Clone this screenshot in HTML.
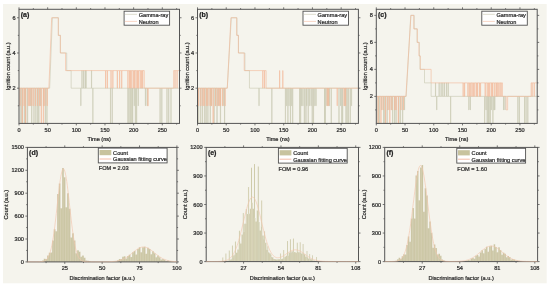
<!DOCTYPE html>
<html><head><meta charset="utf-8"><title>Figure</title>
<style>html,body{margin:0;padding:0;background:#fff;}svg{display:block;filter:blur(0.4px);}</style>
</head><body>
<svg width="550" height="288" viewBox="0 0 550 288" font-family="'Liberation Sans', Arial, sans-serif">
<rect x="0" y="0" width="550" height="288" fill="#ffffff"/>
<rect x="3" y="4" width="543.7" height="279.3" fill="#f5f4ed"/>
<path d="M19,88.18 L20.83,88.18 L20.83,123.4 L21,123.4 L21,88.18 L22.04,88.18 L22.04,123.4 L22.33,123.4 L22.33,88.18 L24.26,88.18 L24.26,123.4 L24.45,123.4 L24.45,88.18 L25.62,88.18 L25.62,123.4 L25.88,123.4 L25.88,88.18 L27.43,88.18 L27.43,123.4 L27.7,123.4 L27.7,88.18 L30.03,88.18 L30.03,105.79 L30.36,105.79 L30.36,88.18 L31.61,88.18 L31.61,123.4 L31.85,123.4 L31.85,88.18 L33.88,88.18 L33.88,123.4 L34.1,123.4 L34.1,88.18 L35.79,88.18 L35.79,123.4 L36.02,123.4 L36.02,88.18 L37.61,88.18 L37.61,123.4 L37.86,123.4 L37.86,88.18 L38.75,88.18 L38.75,123.4 L38.93,123.4 L38.93,88.18 L40.55,88.18 L40.55,105.79 L40.8,105.79 L40.8,88.18 L43.35,88.18 L43.35,105.79 L43.61,105.79 L43.61,88.18 L45.22,88.18 L45.22,123.4 L45.52,123.4 L45.52,88.18 L46.8,88.18 L46.8,123.4 L47.1,123.4 L47.1,88.18 L49.67,88.18 L52.36,17.75 L58.44,17.75 L58.44,35.36 L60.39,35.36 L60.39,52.97 L66.69,52.97 L66.69,70.58 L71.16,70.58 L71.16,88.18 L80.74,88.18 L80.74,105.79 L80.94,105.79 L80.94,88.18 L81.88,88.18 L81.88,70.58 L82.08,70.58 L82.08,88.18 L83.49,88.18 L83.49,70.58 L83.69,70.58 L83.69,88.18 L85.15,88.18 L85.15,70.58 L85.35,70.58 L85.35,88.18 L85.95,88.18 L85.95,70.58 L86.15,70.58 L86.15,88.18 L91.45,88.18 L91.45,70.58 L91.65,70.58 L91.65,88.18 L92.77,88.18 L92.77,123.4 L92.97,123.4 L92.97,88.18 L110.43,88.18 L110.43,123.4 L110.63,123.4 L110.63,88.18 L112.15,88.18 L112.15,123.4 L112.35,123.4 L112.35,88.18 L127.83,88.18 L127.83,123.4 L128.09,123.4 L128.09,88.18 L129.01,88.18 L129.01,123.4 L129.18,123.4 L129.18,88.18 L130.3,88.18 L130.3,123.4 L130.58,123.4 L130.58,88.18 L131.64,88.18 L131.64,123.4 L131.85,123.4 L131.85,88.18 L132.56,88.18 L132.56,123.4 L132.76,123.4 L132.76,88.18 L134.17,88.18 L134.17,105.79 L134.4,105.79 L134.4,88.18 L135.27,88.18 L135.27,123.4 L135.58,123.4 L135.58,88.18 L136.44,88.18 L136.44,123.4 L136.75,123.4 L136.75,88.18 L138.18,88.18 L138.18,105.79 L138.35,105.79 L138.35,88.18 L145.39,88.18 L145.39,105.79 L145.59,105.79 L145.59,88.18 L147.11,88.18 L147.11,105.79 L147.31,105.79 L147.31,88.18 L160.01,88.18 L160.01,123.4 L160.21,123.4 L160.21,88.18 L161.73,88.18 L161.73,123.4 L161.93,123.4 L161.93,88.18 L166.89,88.18 L166.89,123.4 L167.09,123.4 L167.09,88.18 L168.61,88.18 L168.61,123.4 L168.81,123.4 L168.81,88.18 L170.9,88.18 L170.9,123.4 L171.1,123.4 L171.1,88.18 L179.5,88.18 L179.5,88.18" fill="none" stroke="#c8c7b0" stroke-width="0.6" stroke-linejoin="miter"/>
<path d="M19,88.18 L19.91,88.18 L19.91,105.79 L20.12,105.79 L20.12,88.18 L22.19,88.18 L22.19,123.4 L22.45,123.4 L22.45,88.18 L23.93,88.18 L23.93,105.79 L24.1,105.79 L24.1,88.18 L25.41,88.18 L25.41,123.4 L25.66,123.4 L25.66,88.18 L28.11,88.18 L28.11,105.79 L28.43,105.79 L28.43,88.18 L29.42,88.18 L29.42,105.79 L29.72,105.79 L29.72,88.18 L31.11,88.18 L31.11,105.79 L31.26,105.79 L31.26,88.18 L32.9,88.18 L32.9,105.79 L33.28,105.79 L33.28,88.18 L35.17,88.18 L35.17,105.79 L35.56,105.79 L35.56,88.18 L37.43,88.18 L37.43,105.79 L37.77,105.79 L37.77,88.18 L39.54,88.18 L39.54,105.79 L39.77,105.79 L39.77,88.18 L41.12,88.18 L41.12,123.4 L41.51,123.4 L41.51,88.18 L43.27,88.18 L43.27,123.4 L43.63,123.4 L43.63,88.18 L44.73,88.18 L44.73,105.79 L44.92,105.79 L44.92,88.18 L47.09,88.18 L47.09,105.79 L47.27,105.79 L47.27,88.18 L48.86,88.18 L51.67,17.75 L58.27,17.75 L58.27,35.36 L60.39,35.36 L60.39,52.97 L65.55,52.97 L65.55,70.58 L105.56,70.58 L105.56,88.18 L105.76,88.18 L105.76,70.58 L107.28,70.58 L107.28,88.18 L107.48,88.18 L107.48,70.58 L110.94,70.58 L110.94,88.18 L111.14,88.18 L111.14,70.58 L112.78,70.58 L112.78,88.18 L112.98,88.18 L112.98,70.58 L117.25,70.58 L117.25,88.18 L117.45,88.18 L117.45,70.58 L119.54,70.58 L119.54,88.18 L119.74,88.18 L119.74,70.58 L121.61,70.58 L121.61,88.18 L121.81,88.18 L121.81,70.58 L127.83,70.58 L127.83,88.18 L128.08,88.18 L128.08,70.58 L129.49,70.58 L129.49,88.18 L129.7,88.18 L129.7,70.58 L130.56,70.58 L130.56,88.18 L130.75,88.18 L130.75,70.58 L131.73,70.58 L131.73,88.18 L131.99,88.18 L131.99,70.58 L133.54,70.58 L133.54,88.18 L133.81,88.18 L133.81,70.58 L134.48,70.58 L134.48,88.18 L134.76,88.18 L134.76,70.58 L135.99,70.58 L135.99,88.18 L136.27,88.18 L136.27,70.58 L137.5,70.58 L137.5,88.18 L137.68,88.18 L137.68,70.58 L138.32,70.58 L138.32,88.18 L138.6,88.18 L138.6,70.58 L140.13,70.58 L140.13,88.18 L140.38,88.18 L140.38,70.58 L141.52,70.58 L141.52,88.18 L141.8,88.18 L141.8,70.58 L142.58,70.58 L142.58,88.18 L142.84,88.18 L142.84,70.58 L144.3,70.58 L144.3,88.18 L147.69,88.18 L147.69,105.79 L148.26,105.79 L148.26,88.18 L173.6,88.18 L173.6,70.58 L174.91,70.58 L174.91,88.18 L175.11,88.18 L175.11,70.58 L176.98,70.58 L176.98,88.18 L177.18,88.18 L177.18,70.58 L179.5,70.58 L179.5,70.58" fill="none" stroke="#f3b999" stroke-width="0.6" stroke-linejoin="miter"/>
<line x1="19" y1="123.4" x2="19" y2="125.4" stroke="#555555" stroke-width="0.8"/>
<line x1="19" y1="9.3" x2="19" y2="7.3" stroke="#555555" stroke-width="0.8"/>
<line x1="47.66" y1="123.4" x2="47.66" y2="125.4" stroke="#555555" stroke-width="0.8"/>
<line x1="47.66" y1="9.3" x2="47.66" y2="7.3" stroke="#555555" stroke-width="0.8"/>
<line x1="76.32" y1="123.4" x2="76.32" y2="125.4" stroke="#555555" stroke-width="0.8"/>
<line x1="76.32" y1="9.3" x2="76.32" y2="7.3" stroke="#555555" stroke-width="0.8"/>
<line x1="104.98" y1="123.4" x2="104.98" y2="125.4" stroke="#555555" stroke-width="0.8"/>
<line x1="104.98" y1="9.3" x2="104.98" y2="7.3" stroke="#555555" stroke-width="0.8"/>
<line x1="133.64" y1="123.4" x2="133.64" y2="125.4" stroke="#555555" stroke-width="0.8"/>
<line x1="133.64" y1="9.3" x2="133.64" y2="7.3" stroke="#555555" stroke-width="0.8"/>
<line x1="162.3" y1="123.4" x2="162.3" y2="125.4" stroke="#555555" stroke-width="0.8"/>
<line x1="162.3" y1="9.3" x2="162.3" y2="7.3" stroke="#555555" stroke-width="0.8"/>
<line x1="33.33" y1="123.4" x2="33.33" y2="124.6" stroke="#555555" stroke-width="0.8"/>
<line x1="33.33" y1="9.3" x2="33.33" y2="8.1" stroke="#555555" stroke-width="0.8"/>
<line x1="61.99" y1="123.4" x2="61.99" y2="124.6" stroke="#555555" stroke-width="0.8"/>
<line x1="61.99" y1="9.3" x2="61.99" y2="8.1" stroke="#555555" stroke-width="0.8"/>
<line x1="90.65" y1="123.4" x2="90.65" y2="124.6" stroke="#555555" stroke-width="0.8"/>
<line x1="90.65" y1="9.3" x2="90.65" y2="8.1" stroke="#555555" stroke-width="0.8"/>
<line x1="119.31" y1="123.4" x2="119.31" y2="124.6" stroke="#555555" stroke-width="0.8"/>
<line x1="119.31" y1="9.3" x2="119.31" y2="8.1" stroke="#555555" stroke-width="0.8"/>
<line x1="147.97" y1="123.4" x2="147.97" y2="124.6" stroke="#555555" stroke-width="0.8"/>
<line x1="147.97" y1="9.3" x2="147.97" y2="8.1" stroke="#555555" stroke-width="0.8"/>
<line x1="176.63" y1="123.4" x2="176.63" y2="124.6" stroke="#555555" stroke-width="0.8"/>
<line x1="176.63" y1="9.3" x2="176.63" y2="8.1" stroke="#555555" stroke-width="0.8"/>
<line x1="19" y1="88.18" x2="17" y2="88.18" stroke="#555555" stroke-width="0.8"/>
<line x1="179.5" y1="88.18" x2="181.5" y2="88.18" stroke="#555555" stroke-width="0.8"/>
<line x1="19" y1="52.97" x2="17" y2="52.97" stroke="#555555" stroke-width="0.8"/>
<line x1="179.5" y1="52.97" x2="181.5" y2="52.97" stroke="#555555" stroke-width="0.8"/>
<line x1="19" y1="17.75" x2="17" y2="17.75" stroke="#555555" stroke-width="0.8"/>
<line x1="179.5" y1="17.75" x2="181.5" y2="17.75" stroke="#555555" stroke-width="0.8"/>
<line x1="19" y1="105.79" x2="17.8" y2="105.79" stroke="#555555" stroke-width="0.8"/>
<line x1="179.5" y1="105.79" x2="180.7" y2="105.79" stroke="#555555" stroke-width="0.8"/>
<line x1="19" y1="70.58" x2="17.8" y2="70.58" stroke="#555555" stroke-width="0.8"/>
<line x1="179.5" y1="70.58" x2="180.7" y2="70.58" stroke="#555555" stroke-width="0.8"/>
<line x1="19" y1="35.36" x2="17.8" y2="35.36" stroke="#555555" stroke-width="0.8"/>
<line x1="179.5" y1="35.36" x2="180.7" y2="35.36" stroke="#555555" stroke-width="0.8"/>
<rect x="19" y="9.3" width="160.5" height="114.1" fill="none" stroke="#555555" stroke-width="1"/>
<text x="19" y="131.8" text-anchor="middle" font-size="5.6" font-weight="normal" fill="#2e2e2e" stroke="#2e2e2e" stroke-width="0.24" >0</text>
<text x="47.66" y="131.8" text-anchor="middle" font-size="5.6" font-weight="normal" fill="#2e2e2e" stroke="#2e2e2e" stroke-width="0.24" >50</text>
<text x="76.32" y="131.8" text-anchor="middle" font-size="5.6" font-weight="normal" fill="#2e2e2e" stroke="#2e2e2e" stroke-width="0.24" >100</text>
<text x="104.98" y="131.8" text-anchor="middle" font-size="5.6" font-weight="normal" fill="#2e2e2e" stroke="#2e2e2e" stroke-width="0.24" >150</text>
<text x="133.64" y="131.8" text-anchor="middle" font-size="5.6" font-weight="normal" fill="#2e2e2e" stroke="#2e2e2e" stroke-width="0.24" >200</text>
<text x="162.3" y="131.8" text-anchor="middle" font-size="5.6" font-weight="normal" fill="#2e2e2e" stroke="#2e2e2e" stroke-width="0.24" >250</text>
<text x="15.5" y="90.18" text-anchor="end" font-size="5.6" font-weight="normal" fill="#2e2e2e" stroke="#2e2e2e" stroke-width="0.24" >2</text>
<text x="15.5" y="54.97" text-anchor="end" font-size="5.6" font-weight="normal" fill="#2e2e2e" stroke="#2e2e2e" stroke-width="0.24" >4</text>
<text x="15.5" y="19.75" text-anchor="end" font-size="5.6" font-weight="normal" fill="#2e2e2e" stroke="#2e2e2e" stroke-width="0.24" >6</text>
<text x="99.25" y="141.2" text-anchor="middle" font-size="5.6" font-weight="normal" fill="#2e2e2e" stroke="#2e2e2e" stroke-width="0.24" >Time (ns)</text>
<text x="0" y="0" transform="translate(9.9,66.35) rotate(-90)" text-anchor="middle" font-size="5.6" fill="#2e2e2e" stroke="#2e2e2e" stroke-width="0.24">Ignition count (a.u.)</text>
<text x="20.7" y="16.7" text-anchor="start" font-size="7.0" font-weight="bold" fill="#222" stroke="#222" stroke-width="0.24" >(a)</text>
<rect x="124.1" y="11.2" width="45.5" height="14" fill="#ffffff" stroke="#505050" stroke-width="0.9"/>
<line x1="124.9" y1="14.3" x2="137.1" y2="14.3" stroke="#d4d3c0" stroke-width="0.8"/>
<line x1="124.9" y1="21.4" x2="137.1" y2="21.4" stroke="#f7cdb8" stroke-width="0.8"/>
<text x="138.7" y="16.6" text-anchor="start" font-size="5.6" font-weight="normal" fill="#2e2e2e" stroke="#2e2e2e" stroke-width="0.24" >Gamma-ray</text>
<text x="138.7" y="23.7" text-anchor="start" font-size="5.6" font-weight="normal" fill="#2e2e2e" stroke="#2e2e2e" stroke-width="0.24" >Neutron</text>
<path d="M197.5,88.18 L198.52,88.18 L198.52,123.4 L198.81,123.4 L198.81,88.18 L200.63,88.18 L200.63,123.4 L200.78,123.4 L200.78,88.18 L202.38,88.18 L202.38,123.4 L202.68,123.4 L202.68,88.18 L204.62,88.18 L204.62,123.4 L204.87,123.4 L204.87,88.18 L206.01,88.18 L206.01,123.4 L206.32,123.4 L206.32,88.18 L207.74,88.18 L207.74,123.4 L208.05,123.4 L208.05,88.18 L210.18,88.18 L210.18,123.4 L210.36,123.4 L210.36,88.18 L211.47,88.18 L211.47,105.79 L211.79,105.79 L211.79,88.18 L214.03,88.18 L214.03,123.4 L214.19,123.4 L214.19,88.18 L215.48,88.18 L215.48,105.79 L215.7,105.79 L215.7,88.18 L216.92,88.18 L216.92,123.4 L217.16,123.4 L217.16,88.18 L218.58,88.18 L218.58,105.79 L218.9,105.79 L218.9,88.18 L220.33,88.18 L220.33,123.4 L220.59,123.4 L220.59,88.18 L223.14,88.18 L223.14,105.79 L223.32,105.79 L223.32,88.18 L224.47,88.18 L224.47,123.4 L224.7,123.4 L224.7,88.18 L227.27,88.18 L231.29,17.75 L236.92,17.75 L236.92,35.36 L238.53,35.36 L238.53,52.97 L244.91,52.97 L244.91,70.58 L249.45,70.58 L249.45,88.18 L258.93,88.18 L258.93,105.79 L259.13,105.79 L259.13,88.18 L271.74,88.18 L271.74,123.4 L271.94,123.4 L271.94,88.18 L285.3,88.18 L285.3,123.4 L285.55,123.4 L285.55,88.18 L286.52,88.18 L286.52,105.79 L286.87,105.79 L286.87,88.18 L287.8,88.18 L287.8,123.4 L288,123.4 L288,88.18 L288.97,88.18 L288.97,105.79 L289.15,105.79 L289.15,88.18 L290.39,88.18 L290.39,123.4 L290.58,123.4 L290.58,88.18 L291.44,88.18 L291.44,105.79 L291.77,105.79 L291.77,88.18 L292.51,88.18 L292.51,123.4 L292.86,123.4 L292.86,88.18 L299.52,88.18 L299.52,123.4 L299.73,123.4 L299.73,88.18 L300.55,88.18 L300.55,123.4 L300.76,123.4 L300.76,88.18 L301.47,88.18 L301.47,105.79 L301.78,105.79 L301.78,88.18 L302.75,88.18 L302.75,105.79 L303.08,105.79 L303.08,88.18 L304.24,88.18 L304.24,123.4 L304.57,123.4 L304.57,88.18 L305.83,88.18 L305.83,123.4 L306.13,123.4 L306.13,88.18 L306.64,88.18 L306.64,105.79 L306.91,105.79 L306.91,88.18 L308.15,88.18 L308.15,123.4 L308.35,123.4 L308.35,88.18 L309.3,88.18 L309.3,105.79 L309.59,105.79 L309.59,88.18 L310.99,88.18 L310.99,105.79 L311.2,105.79 L311.2,88.18 L312.13,88.18 L312.13,123.4 L312.35,123.4 L312.35,88.18 L313.34,88.18 L313.34,123.4 L313.58,123.4 L313.58,88.18 L314.7,88.18 L314.7,105.79 L314.94,105.79 L314.94,88.18 L315.93,88.18 L315.93,105.79 L316.19,105.79 L316.19,88.18 L324.5,88.18 L324.5,123.4 L324.83,123.4 L324.83,88.18 L325.15,88.18 L325.15,123.4 L325.4,123.4 L325.4,88.18 L326.83,88.18 L326.83,105.79 L327.13,105.79 L327.13,88.18 L327.94,88.18 L327.94,105.79 L328.15,105.79 L328.15,88.18 L329.41,88.18 L329.41,105.79 L329.6,105.79 L329.6,88.18 L331.15,88.18 L331.15,123.4 L331.4,123.4 L331.4,88.18 L338.9,88.18 L338.9,123.4 L339.1,123.4 L339.1,88.18 L340.51,88.18 L340.51,105.79 L340.71,105.79 L340.71,88.18 L341.62,88.18 L341.62,123.4 L341.92,123.4 L341.92,88.18 L342.55,88.18 L342.55,123.4 L342.78,123.4 L342.78,88.18 L344.56,88.18 L344.56,105.79 L344.81,105.79 L344.81,88.18 L345.89,88.18 L345.89,123.4 L346.08,123.4 L346.08,88.18 L346.98,88.18 L346.98,123.4 L347.28,123.4 L347.28,88.18 L348.29,88.18 L348.29,123.4 L348.55,123.4 L348.55,88.18 L350.12,88.18 L350.12,123.4 L350.42,123.4 L350.42,88.18 L351.37,88.18 L351.37,105.79 L351.66,105.79 L351.66,88.18 L358.4,88.18 L358.4,88.18" fill="none" stroke="#c8c7b0" stroke-width="0.6" stroke-linejoin="miter"/>
<path d="M197.5,88.18 L198.52,88.18 L198.52,105.79 L198.76,105.79 L198.76,88.18 L200.76,88.18 L200.76,105.79 L201.06,105.79 L201.06,88.18 L202.94,88.18 L202.94,105.79 L203.15,105.79 L203.15,88.18 L204.03,88.18 L204.03,105.79 L204.32,105.79 L204.32,88.18 L206.22,88.18 L206.22,105.79 L206.53,105.79 L206.53,88.18 L207.62,88.18 L207.62,105.79 L207.99,105.79 L207.99,88.18 L209.87,88.18 L209.87,105.79 L210.19,105.79 L210.19,88.18 L211.2,88.18 L211.2,105.79 L211.42,105.79 L211.42,88.18 L213,88.18 L213,123.4 L213.27,123.4 L213.27,88.18 L215.6,88.18 L215.6,105.79 L215.93,105.79 L215.93,88.18 L217.66,88.18 L217.66,105.79 L218,105.79 L218,88.18 L219.12,88.18 L219.12,105.79 L219.49,105.79 L219.49,88.18 L220.43,88.18 L220.43,105.79 L220.7,105.79 L220.7,88.18 L222.45,88.18 L222.45,105.79 L222.79,105.79 L222.79,88.18 L224.95,88.18 L224.95,105.79 L225.22,105.79 L225.22,88.18 L227.27,88.18 L230.94,17.75 L236.69,17.75 L236.69,35.36 L238.36,35.36 L238.36,52.97 L244.22,52.97 L244.22,70.58 L262.72,70.58 L262.72,88.18 L262.92,88.18 L262.92,70.58 L264.45,70.58 L264.45,88.18 L264.65,88.18 L264.65,70.58 L266.11,70.58 L266.11,88.18 L279.56,88.18 L279.56,70.58 L279.76,70.58 L279.76,88.18 L282.72,88.18 L282.72,70.58 L282.92,70.58 L282.92,88.18 L327.14,88.18 L327.14,105.79 L327.34,105.79 L327.34,88.18 L328.52,88.18 L328.52,105.79 L328.72,105.79 L328.72,88.18 L337.14,88.18 L337.14,105.79 L337.34,105.79 L337.34,88.18 L343.98,88.18 L343.98,105.79 L344.18,105.79 L344.18,88.18 L345.47,88.18 L345.47,105.79 L345.67,105.79 L345.67,88.18 L358.4,88.18 L358.4,88.18" fill="none" stroke="#f3b999" stroke-width="0.6" stroke-linejoin="miter"/>
<line x1="197.5" y1="123.4" x2="197.5" y2="125.4" stroke="#555555" stroke-width="0.8"/>
<line x1="197.5" y1="9.3" x2="197.5" y2="7.3" stroke="#555555" stroke-width="0.8"/>
<line x1="226.23" y1="123.4" x2="226.23" y2="125.4" stroke="#555555" stroke-width="0.8"/>
<line x1="226.23" y1="9.3" x2="226.23" y2="7.3" stroke="#555555" stroke-width="0.8"/>
<line x1="254.96" y1="123.4" x2="254.96" y2="125.4" stroke="#555555" stroke-width="0.8"/>
<line x1="254.96" y1="9.3" x2="254.96" y2="7.3" stroke="#555555" stroke-width="0.8"/>
<line x1="283.7" y1="123.4" x2="283.7" y2="125.4" stroke="#555555" stroke-width="0.8"/>
<line x1="283.7" y1="9.3" x2="283.7" y2="7.3" stroke="#555555" stroke-width="0.8"/>
<line x1="312.43" y1="123.4" x2="312.43" y2="125.4" stroke="#555555" stroke-width="0.8"/>
<line x1="312.43" y1="9.3" x2="312.43" y2="7.3" stroke="#555555" stroke-width="0.8"/>
<line x1="341.16" y1="123.4" x2="341.16" y2="125.4" stroke="#555555" stroke-width="0.8"/>
<line x1="341.16" y1="9.3" x2="341.16" y2="7.3" stroke="#555555" stroke-width="0.8"/>
<line x1="211.87" y1="123.4" x2="211.87" y2="124.6" stroke="#555555" stroke-width="0.8"/>
<line x1="211.87" y1="9.3" x2="211.87" y2="8.1" stroke="#555555" stroke-width="0.8"/>
<line x1="240.6" y1="123.4" x2="240.6" y2="124.6" stroke="#555555" stroke-width="0.8"/>
<line x1="240.6" y1="9.3" x2="240.6" y2="8.1" stroke="#555555" stroke-width="0.8"/>
<line x1="269.33" y1="123.4" x2="269.33" y2="124.6" stroke="#555555" stroke-width="0.8"/>
<line x1="269.33" y1="9.3" x2="269.33" y2="8.1" stroke="#555555" stroke-width="0.8"/>
<line x1="298.06" y1="123.4" x2="298.06" y2="124.6" stroke="#555555" stroke-width="0.8"/>
<line x1="298.06" y1="9.3" x2="298.06" y2="8.1" stroke="#555555" stroke-width="0.8"/>
<line x1="326.79" y1="123.4" x2="326.79" y2="124.6" stroke="#555555" stroke-width="0.8"/>
<line x1="326.79" y1="9.3" x2="326.79" y2="8.1" stroke="#555555" stroke-width="0.8"/>
<line x1="355.53" y1="123.4" x2="355.53" y2="124.6" stroke="#555555" stroke-width="0.8"/>
<line x1="355.53" y1="9.3" x2="355.53" y2="8.1" stroke="#555555" stroke-width="0.8"/>
<line x1="197.5" y1="88.18" x2="195.5" y2="88.18" stroke="#555555" stroke-width="0.8"/>
<line x1="358.4" y1="88.18" x2="360.4" y2="88.18" stroke="#555555" stroke-width="0.8"/>
<line x1="197.5" y1="52.97" x2="195.5" y2="52.97" stroke="#555555" stroke-width="0.8"/>
<line x1="358.4" y1="52.97" x2="360.4" y2="52.97" stroke="#555555" stroke-width="0.8"/>
<line x1="197.5" y1="17.75" x2="195.5" y2="17.75" stroke="#555555" stroke-width="0.8"/>
<line x1="358.4" y1="17.75" x2="360.4" y2="17.75" stroke="#555555" stroke-width="0.8"/>
<line x1="197.5" y1="105.79" x2="196.3" y2="105.79" stroke="#555555" stroke-width="0.8"/>
<line x1="358.4" y1="105.79" x2="359.6" y2="105.79" stroke="#555555" stroke-width="0.8"/>
<line x1="197.5" y1="70.58" x2="196.3" y2="70.58" stroke="#555555" stroke-width="0.8"/>
<line x1="358.4" y1="70.58" x2="359.6" y2="70.58" stroke="#555555" stroke-width="0.8"/>
<line x1="197.5" y1="35.36" x2="196.3" y2="35.36" stroke="#555555" stroke-width="0.8"/>
<line x1="358.4" y1="35.36" x2="359.6" y2="35.36" stroke="#555555" stroke-width="0.8"/>
<rect x="197.5" y="9.3" width="160.9" height="114.1" fill="none" stroke="#555555" stroke-width="1"/>
<text x="197.5" y="131.8" text-anchor="middle" font-size="5.6" font-weight="normal" fill="#2e2e2e" stroke="#2e2e2e" stroke-width="0.24" >0</text>
<text x="226.23" y="131.8" text-anchor="middle" font-size="5.6" font-weight="normal" fill="#2e2e2e" stroke="#2e2e2e" stroke-width="0.24" >50</text>
<text x="254.96" y="131.8" text-anchor="middle" font-size="5.6" font-weight="normal" fill="#2e2e2e" stroke="#2e2e2e" stroke-width="0.24" >100</text>
<text x="283.7" y="131.8" text-anchor="middle" font-size="5.6" font-weight="normal" fill="#2e2e2e" stroke="#2e2e2e" stroke-width="0.24" >150</text>
<text x="312.43" y="131.8" text-anchor="middle" font-size="5.6" font-weight="normal" fill="#2e2e2e" stroke="#2e2e2e" stroke-width="0.24" >200</text>
<text x="341.16" y="131.8" text-anchor="middle" font-size="5.6" font-weight="normal" fill="#2e2e2e" stroke="#2e2e2e" stroke-width="0.24" >250</text>
<text x="194" y="90.18" text-anchor="end" font-size="5.6" font-weight="normal" fill="#2e2e2e" stroke="#2e2e2e" stroke-width="0.24" >2</text>
<text x="194" y="54.97" text-anchor="end" font-size="5.6" font-weight="normal" fill="#2e2e2e" stroke="#2e2e2e" stroke-width="0.24" >4</text>
<text x="194" y="19.75" text-anchor="end" font-size="5.6" font-weight="normal" fill="#2e2e2e" stroke="#2e2e2e" stroke-width="0.24" >6</text>
<text x="277.95" y="141.2" text-anchor="middle" font-size="5.6" font-weight="normal" fill="#2e2e2e" stroke="#2e2e2e" stroke-width="0.24" >Time (ns)</text>
<text x="0" y="0" transform="translate(188.6,66.35) rotate(-90)" text-anchor="middle" font-size="5.6" fill="#2e2e2e" stroke="#2e2e2e" stroke-width="0.24">Ignition count (a.u.)</text>
<text x="199.2" y="16.7" text-anchor="start" font-size="7.0" font-weight="bold" fill="#222" stroke="#222" stroke-width="0.24" >(b)</text>
<rect x="303" y="11.2" width="45.5" height="14" fill="#ffffff" stroke="#505050" stroke-width="0.9"/>
<line x1="303.8" y1="14.3" x2="316" y2="14.3" stroke="#d4d3c0" stroke-width="0.8"/>
<line x1="303.8" y1="21.4" x2="316" y2="21.4" stroke="#f7cdb8" stroke-width="0.8"/>
<text x="317.6" y="16.6" text-anchor="start" font-size="5.6" font-weight="normal" fill="#2e2e2e" stroke="#2e2e2e" stroke-width="0.24" >Gamma-ray</text>
<text x="317.6" y="23.7" text-anchor="start" font-size="5.6" font-weight="normal" fill="#2e2e2e" stroke="#2e2e2e" stroke-width="0.24" >Neutron</text>
<path d="M376.3,96.39 L377.96,96.39 L377.96,123.4 L378.2,123.4 L378.2,96.39 L379.23,96.39 L379.23,123.4 L379.41,123.4 L379.41,96.39 L381.48,96.39 L381.48,109.9 L381.7,109.9 L381.7,96.39 L383.56,96.39 L383.56,123.4 L383.8,123.4 L383.8,96.39 L384.79,96.39 L384.79,123.4 L385.12,123.4 L385.12,96.39 L387.06,96.39 L387.06,123.4 L387.24,123.4 L387.24,96.39 L388.95,96.39 L388.95,109.9 L389.15,109.9 L389.15,96.39 L391.11,96.39 L391.11,109.9 L391.27,109.9 L391.27,96.39 L392.56,96.39 L392.56,123.4 L392.77,123.4 L392.77,96.39 L394.42,96.39 L394.42,123.4 L394.65,123.4 L394.65,96.39 L395.94,96.39 L395.94,123.4 L396.22,123.4 L396.22,96.39 L398.61,96.39 L398.61,123.4 L398.94,123.4 L398.94,96.39 L400.25,96.39 L400.25,123.4 L400.56,123.4 L400.56,96.39 L402.49,96.39 L402.49,123.4 L402.82,123.4 L402.82,96.39 L404.37,96.39 L404.37,109.9 L404.63,109.9 L404.63,96.39 L406.18,96.39 L410.78,15.38 L414.11,15.38 L414.11,28.88 L417.1,28.88 L417.1,42.38 L419.4,42.38 L419.4,55.89 L420.09,55.89 L420.09,69.39 L424.51,69.39 L424.51,82.89 L431.12,82.89 L431.12,96.39 L435.43,96.39 L435.43,82.89 L435.63,82.89 L435.63,96.39 L436.64,96.39 L436.64,109.9 L436.84,109.9 L436.84,96.39 L439.05,96.39 L439.05,82.89 L439.25,82.89 L439.25,96.39 L441.06,96.39 L441.06,82.89 L441.26,82.89 L441.26,96.39 L442.73,96.39 L442.73,82.89 L442.93,82.89 L442.93,96.39 L444.4,96.39 L444.4,82.89 L444.6,82.89 L444.6,96.39 L446.46,96.39 L446.46,82.89 L446.67,82.89 L446.67,96.39 L448.13,96.39 L448.13,82.89 L448.33,82.89 L448.33,96.39 L450.54,96.39 L450.54,123.4 L450.74,123.4 L450.74,96.39 L468.76,96.39 L468.76,109.9 L468.96,109.9 L468.96,96.39 L470.25,96.39 L470.25,109.9 L470.46,109.9 L470.46,96.39 L484.55,96.39 L484.55,123.4 L484.76,123.4 L484.76,96.39 L485.88,96.39 L485.88,109.9 L486.17,109.9 L486.17,96.39 L487.06,96.39 L487.06,123.4 L487.26,123.4 L487.26,96.39 L488.04,96.39 L488.04,123.4 L488.37,123.4 L488.37,96.39 L488.95,96.39 L488.95,123.4 L489.22,123.4 L489.22,96.39 L490.18,96.39 L490.18,123.4 L490.47,123.4 L490.47,96.39 L491.23,96.39 L491.23,109.9 L491.49,109.9 L491.49,96.39 L492.78,96.39 L492.78,123.4 L493.06,123.4 L493.06,96.39 L493.81,96.39 L493.81,109.9 L494.13,109.9 L494.13,96.39 L494.64,96.39 L494.64,109.9 L494.91,109.9 L494.91,96.39 L503.47,96.39 L503.47,109.9 L503.67,109.9 L503.67,96.39 L504.91,96.39 L504.91,109.9 L505.11,109.9 L505.11,96.39 L517.78,96.39 L517.78,123.4 L517.98,123.4 L517.98,96.39 L519.27,96.39 L519.27,123.4 L519.47,123.4 L519.47,96.39 L524.5,96.39 L524.5,123.4 L524.7,123.4 L524.7,96.39 L525.99,96.39 L525.99,123.4 L526.2,123.4 L526.2,96.39 L527.72,96.39 L527.72,123.4 L527.92,123.4 L527.92,96.39 L537.2,96.39 L537.2,96.39" fill="none" stroke="#c8c7b0" stroke-width="0.6" stroke-linejoin="miter"/>
<path d="M376.3,96.39 L377.99,96.39 L377.99,123.4 L378.34,123.4 L378.34,96.39 L380.78,96.39 L380.78,123.4 L381.14,123.4 L381.14,96.39 L382.89,96.39 L382.89,109.9 L383.21,109.9 L383.21,96.39 L385.42,96.39 L385.42,123.4 L385.66,123.4 L385.66,96.39 L387.72,96.39 L387.72,109.9 L388,109.9 L388,96.39 L389.65,96.39 L389.65,123.4 L389.98,123.4 L389.98,96.39 L391.76,96.39 L391.76,109.9 L392.14,109.9 L392.14,96.39 L394.61,96.39 L394.61,109.9 L394.95,109.9 L394.95,96.39 L395.98,96.39 L395.98,109.9 L396.16,109.9 L396.16,96.39 L398.23,96.39 L398.23,123.4 L398.43,123.4 L398.43,96.39 L400.88,96.39 L400.88,109.9 L401.25,109.9 L401.25,96.39 L403.33,96.39 L403.33,109.9 L403.61,109.9 L403.61,96.39 L405.89,96.39 L410.95,15.38 L413.82,15.38 L413.82,28.88 L417.33,28.88 L417.33,42.38 L418.94,42.38 L418.94,55.89 L420.26,55.89 L420.26,69.39 L431.12,69.39 L431.12,82.89 L463.07,82.89 L463.07,96.39 L463.27,96.39 L463.27,82.89 L464.51,82.89 L464.51,96.39 L464.71,96.39 L464.71,82.89 L467.81,82.89 L467.81,96.39 L468.12,96.39 L468.12,82.89 L469.27,82.89 L469.27,96.39 L469.46,96.39 L469.46,82.89 L470.6,82.89 L470.6,96.39 L470.89,96.39 L470.89,82.89 L471.97,82.89 L471.97,96.39 L472.25,96.39 L472.25,82.89 L473.32,82.89 L473.32,96.39 L473.58,96.39 L473.58,82.89 L474.72,82.89 L474.72,96.39 L474.91,96.39 L474.91,82.89 L476.53,82.89 L476.53,96.39 L476.76,96.39 L476.76,82.89 L477.42,82.89 L477.42,96.39 L477.66,96.39 L477.66,82.89 L479.38,82.89 L479.38,96.39 L479.68,96.39 L479.68,82.89 L480.29,82.89 L480.29,96.39 L480.63,96.39 L480.63,82.89 L485.12,82.89 L485.12,96.39 L485.32,96.39 L485.32,82.89 L487.09,82.89 L487.09,96.39 L487.35,96.39 L487.35,82.89 L488.55,82.89 L488.55,96.39 L488.77,96.39 L488.77,82.89 L489.65,82.89 L489.65,96.39 L489.91,96.39 L489.91,82.89 L491.61,82.89 L491.61,96.39 L491.85,96.39 L491.85,82.89 L492.23,82.89 L492.23,96.39 L492.5,96.39 L492.5,82.89 L494.09,82.89 L494.09,96.39 L494.41,96.39 L494.41,82.89 L495.93,82.89 L495.93,96.39 L496.18,96.39 L496.18,82.89 L496.83,82.89 L496.83,96.39 L497.17,96.39 L497.17,82.89 L498.08,82.89 L498.08,96.39 L498.33,96.39 L498.33,82.89 L499.79,82.89 L499.79,96.39 L500.06,96.39 L500.06,82.89 L501.05,82.89 L501.05,96.39 L501.28,96.39 L501.28,82.89 L502.49,82.89 L502.49,96.39 L506.17,96.39 L506.17,109.9 L507.61,109.9 L507.61,96.39 L531.11,96.39 L531.11,82.89 L532.03,82.89 L532.03,96.39 L532.23,96.39 L532.23,82.89 L534.1,82.89 L534.1,96.39 L534.3,96.39 L534.3,82.89 L537.2,82.89 L537.2,82.89" fill="none" stroke="#f3b999" stroke-width="0.6" stroke-linejoin="miter"/>
<line x1="376.3" y1="123.4" x2="376.3" y2="125.4" stroke="#555555" stroke-width="0.8"/>
<line x1="376.3" y1="9.3" x2="376.3" y2="7.3" stroke="#555555" stroke-width="0.8"/>
<line x1="405.03" y1="123.4" x2="405.03" y2="125.4" stroke="#555555" stroke-width="0.8"/>
<line x1="405.03" y1="9.3" x2="405.03" y2="7.3" stroke="#555555" stroke-width="0.8"/>
<line x1="433.76" y1="123.4" x2="433.76" y2="125.4" stroke="#555555" stroke-width="0.8"/>
<line x1="433.76" y1="9.3" x2="433.76" y2="7.3" stroke="#555555" stroke-width="0.8"/>
<line x1="462.5" y1="123.4" x2="462.5" y2="125.4" stroke="#555555" stroke-width="0.8"/>
<line x1="462.5" y1="9.3" x2="462.5" y2="7.3" stroke="#555555" stroke-width="0.8"/>
<line x1="491.23" y1="123.4" x2="491.23" y2="125.4" stroke="#555555" stroke-width="0.8"/>
<line x1="491.23" y1="9.3" x2="491.23" y2="7.3" stroke="#555555" stroke-width="0.8"/>
<line x1="519.96" y1="123.4" x2="519.96" y2="125.4" stroke="#555555" stroke-width="0.8"/>
<line x1="519.96" y1="9.3" x2="519.96" y2="7.3" stroke="#555555" stroke-width="0.8"/>
<line x1="390.67" y1="123.4" x2="390.67" y2="124.6" stroke="#555555" stroke-width="0.8"/>
<line x1="390.67" y1="9.3" x2="390.67" y2="8.1" stroke="#555555" stroke-width="0.8"/>
<line x1="419.4" y1="123.4" x2="419.4" y2="124.6" stroke="#555555" stroke-width="0.8"/>
<line x1="419.4" y1="9.3" x2="419.4" y2="8.1" stroke="#555555" stroke-width="0.8"/>
<line x1="448.13" y1="123.4" x2="448.13" y2="124.6" stroke="#555555" stroke-width="0.8"/>
<line x1="448.13" y1="9.3" x2="448.13" y2="8.1" stroke="#555555" stroke-width="0.8"/>
<line x1="476.86" y1="123.4" x2="476.86" y2="124.6" stroke="#555555" stroke-width="0.8"/>
<line x1="476.86" y1="9.3" x2="476.86" y2="8.1" stroke="#555555" stroke-width="0.8"/>
<line x1="505.59" y1="123.4" x2="505.59" y2="124.6" stroke="#555555" stroke-width="0.8"/>
<line x1="505.59" y1="9.3" x2="505.59" y2="8.1" stroke="#555555" stroke-width="0.8"/>
<line x1="534.33" y1="123.4" x2="534.33" y2="124.6" stroke="#555555" stroke-width="0.8"/>
<line x1="534.33" y1="9.3" x2="534.33" y2="8.1" stroke="#555555" stroke-width="0.8"/>
<line x1="376.3" y1="96.39" x2="374.3" y2="96.39" stroke="#555555" stroke-width="0.8"/>
<line x1="537.2" y1="96.39" x2="539.2" y2="96.39" stroke="#555555" stroke-width="0.8"/>
<line x1="376.3" y1="69.39" x2="374.3" y2="69.39" stroke="#555555" stroke-width="0.8"/>
<line x1="537.2" y1="69.39" x2="539.2" y2="69.39" stroke="#555555" stroke-width="0.8"/>
<line x1="376.3" y1="42.38" x2="374.3" y2="42.38" stroke="#555555" stroke-width="0.8"/>
<line x1="537.2" y1="42.38" x2="539.2" y2="42.38" stroke="#555555" stroke-width="0.8"/>
<line x1="376.3" y1="15.38" x2="374.3" y2="15.38" stroke="#555555" stroke-width="0.8"/>
<line x1="537.2" y1="15.38" x2="539.2" y2="15.38" stroke="#555555" stroke-width="0.8"/>
<line x1="376.3" y1="109.9" x2="375.1" y2="109.9" stroke="#555555" stroke-width="0.8"/>
<line x1="537.2" y1="109.9" x2="538.4" y2="109.9" stroke="#555555" stroke-width="0.8"/>
<line x1="376.3" y1="82.89" x2="375.1" y2="82.89" stroke="#555555" stroke-width="0.8"/>
<line x1="537.2" y1="82.89" x2="538.4" y2="82.89" stroke="#555555" stroke-width="0.8"/>
<line x1="376.3" y1="55.89" x2="375.1" y2="55.89" stroke="#555555" stroke-width="0.8"/>
<line x1="537.2" y1="55.89" x2="538.4" y2="55.89" stroke="#555555" stroke-width="0.8"/>
<line x1="376.3" y1="28.88" x2="375.1" y2="28.88" stroke="#555555" stroke-width="0.8"/>
<line x1="537.2" y1="28.88" x2="538.4" y2="28.88" stroke="#555555" stroke-width="0.8"/>
<rect x="376.3" y="9.3" width="160.9" height="114.1" fill="none" stroke="#555555" stroke-width="1"/>
<text x="376.3" y="131.8" text-anchor="middle" font-size="5.6" font-weight="normal" fill="#2e2e2e" stroke="#2e2e2e" stroke-width="0.24" >0</text>
<text x="405.03" y="131.8" text-anchor="middle" font-size="5.6" font-weight="normal" fill="#2e2e2e" stroke="#2e2e2e" stroke-width="0.24" >50</text>
<text x="433.76" y="131.8" text-anchor="middle" font-size="5.6" font-weight="normal" fill="#2e2e2e" stroke="#2e2e2e" stroke-width="0.24" >100</text>
<text x="462.5" y="131.8" text-anchor="middle" font-size="5.6" font-weight="normal" fill="#2e2e2e" stroke="#2e2e2e" stroke-width="0.24" >150</text>
<text x="491.23" y="131.8" text-anchor="middle" font-size="5.6" font-weight="normal" fill="#2e2e2e" stroke="#2e2e2e" stroke-width="0.24" >200</text>
<text x="519.96" y="131.8" text-anchor="middle" font-size="5.6" font-weight="normal" fill="#2e2e2e" stroke="#2e2e2e" stroke-width="0.24" >250</text>
<text x="372.8" y="98.39" text-anchor="end" font-size="5.6" font-weight="normal" fill="#2e2e2e" stroke="#2e2e2e" stroke-width="0.24" >2</text>
<text x="372.8" y="71.39" text-anchor="end" font-size="5.6" font-weight="normal" fill="#2e2e2e" stroke="#2e2e2e" stroke-width="0.24" >4</text>
<text x="372.8" y="44.38" text-anchor="end" font-size="5.6" font-weight="normal" fill="#2e2e2e" stroke="#2e2e2e" stroke-width="0.24" >6</text>
<text x="372.8" y="17.38" text-anchor="end" font-size="5.6" font-weight="normal" fill="#2e2e2e" stroke="#2e2e2e" stroke-width="0.24" >8</text>
<text x="456.75" y="141.2" text-anchor="middle" font-size="5.6" font-weight="normal" fill="#2e2e2e" stroke="#2e2e2e" stroke-width="0.24" >Time (ns)</text>
<text x="0" y="0" transform="translate(367.4,66.35) rotate(-90)" text-anchor="middle" font-size="5.6" fill="#2e2e2e" stroke="#2e2e2e" stroke-width="0.24">Ignition count (a.u.)</text>
<text x="378" y="16.7" text-anchor="start" font-size="7.0" font-weight="bold" fill="#222" stroke="#222" stroke-width="0.24" >(c)</text>
<rect x="481.8" y="11.2" width="45.5" height="14" fill="#ffffff" stroke="#505050" stroke-width="0.9"/>
<line x1="482.6" y1="14.3" x2="494.8" y2="14.3" stroke="#d4d3c0" stroke-width="0.8"/>
<line x1="482.6" y1="21.4" x2="494.8" y2="21.4" stroke="#f7cdb8" stroke-width="0.8"/>
<text x="496.4" y="16.6" text-anchor="start" font-size="5.6" font-weight="normal" fill="#2e2e2e" stroke="#2e2e2e" stroke-width="0.24" >Gamma-ray</text>
<text x="496.4" y="23.7" text-anchor="start" font-size="5.6" font-weight="normal" fill="#2e2e2e" stroke="#2e2e2e" stroke-width="0.24" >Neutron</text>
<path d="M40.46,261.59h1.67v0.31h-1.67zM42.13,260.5h1.67v1.4h-1.67zM43.8,258.71h1.67v3.19h-1.67zM45.46,258.98h1.67v2.92h-1.67zM47.13,255.62h1.67v6.28h-1.67zM48.8,252.74h1.67v9.16h-1.67zM50.47,252.56h1.67v9.34h-1.67zM52.13,240.59h1.67v21.31h-1.67zM53.8,229.18h1.67v32.72h-1.67zM55.47,231.36h1.67v30.54h-1.67zM57.13,194.01h1.67v67.89h-1.67zM58.8,183.61h1.67v78.29h-1.67zM60.47,208.35h1.67v53.55h-1.67zM62.13,167.9h1.67v94h-1.67zM63.8,177.34h1.67v84.56h-1.67zM65.47,207.25h1.67v54.65h-1.67zM67.14,193.35h1.67v68.55h-1.67zM68.8,208.85h1.67v53.05h-1.67zM70.47,237.59h1.67v24.31h-1.67zM72.14,233.36h1.67v28.54h-1.67zM73.8,240.48h1.67v21.42h-1.67zM75.47,253.25h1.67v8.65h-1.67zM77.14,250.14h1.67v11.76h-1.67zM78.8,251.83h1.67v10.07h-1.67zM80.47,256.86h1.67v5.04h-1.67zM82.14,255.43h1.67v6.47h-1.67zM83.81,257.84h1.67v4.06h-1.67zM85.47,260.43h1.67v1.47h-1.67zM87.14,260.7h1.67v1.2h-1.67zM88.81,261.36h1.67v0.54h-1.67zM112.14,261.56h1.67v0.34h-1.67zM113.81,261.43h1.67v0.47h-1.67zM115.48,261.39h1.67v0.51h-1.67zM117.15,260.25h1.67v1.65h-1.67zM118.81,259.09h1.67v2.81h-1.67zM120.48,259.04h1.67v2.86h-1.67zM122.15,256.77h1.67v5.13h-1.67zM123.81,256.27h1.67v5.63h-1.67zM125.48,258.47h1.67v3.43h-1.67zM127.15,256.09h1.67v5.81h-1.67zM128.81,254.75h1.67v7.15h-1.67zM130.48,257.08h1.67v4.82h-1.67zM132.15,252.24h1.67v9.66h-1.67zM133.82,251.03h1.67v10.87h-1.67zM135.48,254.39h1.67v7.51h-1.67zM137.15,248.94h1.67v12.96h-1.67zM138.82,247.22h1.67v14.68h-1.67zM140.48,252.26h1.67v9.64h-1.67zM142.15,247.18h1.67v14.72h-1.67zM143.82,246.79h1.67v15.11h-1.67zM145.48,253.64h1.67v8.26h-1.67zM147.15,247.84h1.67v14.06h-1.67zM148.82,248.94h1.67v12.96h-1.67zM150.49,254.21h1.67v7.69h-1.67zM152.15,251.17h1.67v10.73h-1.67zM153.82,253.35h1.67v8.55h-1.67zM155.49,257.33h1.67v4.57h-1.67zM157.15,255.51h1.67v6.39h-1.67zM158.82,257.25h1.67v4.65h-1.67zM160.49,259.45h1.67v2.45h-1.67zM162.15,258.98h1.67v2.92h-1.67zM163.82,259.71h1.67v2.19h-1.67zM165.49,260.91h1.67v0.99h-1.67zM167.16,260.61h1.67v1.29h-1.67zM168.82,261.08h1.67v0.82h-1.67zM170.49,261.54h1.67v0.36h-1.67zM172.16,261.5h1.67v0.4h-1.67z" fill="#c9c4a0" stroke="#fbfaf4" stroke-width="0.12"/>
<path d="M224.9,261.06h1.39v0.54h-1.39zM226.28,260.95h1.39v0.65h-1.39zM227.67,260.52h1.39v1.08h-1.39zM229.05,260.1h1.39v1.5h-1.39zM230.44,259.13h1.39v2.47h-1.39zM231.82,257.82h1.39v3.78h-1.39zM233.21,255.28h1.39v6.32h-1.39zM234.59,254.33h1.39v7.27h-1.39zM235.98,252.81h1.39v8.79h-1.39zM237.36,249.38h1.39v12.22h-1.39zM238.75,241.45h1.39v20.15h-1.39zM240.13,243.6h1.39v18h-1.39zM241.52,234.48h1.39v27.12h-1.39zM242.9,232.1h1.39v29.5h-1.39zM244.29,223.78h1.39v37.82h-1.39zM245.67,223.56h1.39v38.04h-1.39zM247.06,214.02h1.39v47.58h-1.39zM248.44,213.77h1.39v47.83h-1.39zM249.83,208.68h1.39v52.92h-1.39zM251.21,202.79h1.39v58.81h-1.39zM252.6,208.8h1.39v52.8h-1.39zM253.98,218.08h1.39v43.52h-1.39zM255.37,221.59h1.39v40.01h-1.39zM256.75,210.56h1.39v51.04h-1.39zM258.14,222h1.39v39.6h-1.39zM259.52,230.4h1.39v31.2h-1.39zM260.91,226.58h1.39v35.02h-1.39zM262.29,235.55h1.39v26.05h-1.39zM263.68,239.14h1.39v22.46h-1.39zM265.06,242.74h1.39v18.86h-1.39zM266.45,249.66h1.39v11.94h-1.39zM267.83,252.24h1.39v9.36h-1.39zM269.22,253.22h1.39v8.38h-1.39zM270.6,256.89h1.39v4.71h-1.39zM271.99,257.26h1.39v4.34h-1.39zM273.37,259.08h1.39v2.52h-1.39zM274.76,259.14h1.39v2.46h-1.39zM276.14,259.48h1.39v2.12h-1.39zM277.53,259.36h1.39v2.24h-1.39zM278.91,259.21h1.39v2.39h-1.39zM280.3,259.05h1.39v2.55h-1.39zM281.68,258.79h1.39v2.81h-1.39zM283.07,258.17h1.39v3.43h-1.39zM284.45,256.72h1.39v4.88h-1.39zM285.84,255.74h1.39v5.86h-1.39zM287.22,255.78h1.39v5.82h-1.39zM288.61,252.53h1.39v9.07h-1.39zM289.99,252.69h1.39v8.91h-1.39zM291.38,251.19h1.39v10.41h-1.39zM292.76,252.31h1.39v9.29h-1.39zM294.15,251.89h1.39v9.71h-1.39zM295.53,252.7h1.39v8.9h-1.39zM296.92,251.59h1.39v10.01h-1.39zM298.3,252.3h1.39v9.3h-1.39zM299.69,252.4h1.39v9.2h-1.39zM301.07,253.4h1.39v8.2h-1.39zM302.46,253.11h1.39v8.49h-1.39zM303.84,254.16h1.39v7.44h-1.39zM305.23,256.77h1.39v4.83h-1.39zM306.61,257.31h1.39v4.29h-1.39zM308,258.48h1.39v3.12h-1.39zM309.38,258.7h1.39v2.9h-1.39zM310.77,259.18h1.39v2.42h-1.39zM312.15,260.25h1.39v1.35h-1.39zM313.54,260.41h1.39v1.19h-1.39zM314.92,260.9h1.39v0.7h-1.39zM316.31,261.18h1.39v0.42h-1.39zM317.69,261.23h1.39v0.37h-1.39zM222.35,257.5h0.9v4.1h-0.9zM225.45,253.5h0.9v8.1h-0.9zM228.85,250.5h0.9v11.1h-0.9zM231.95,245.6h0.9v16h-0.9zM234.95,241.6h0.9v20h-0.9zM238.95,230.7h0.9v30.9h-0.9zM242.85,212.9h0.9v48.7h-0.9zM245.85,209h0.9v52.6h-0.9zM248.15,187h0.9v74.6h-0.9zM251,167.8h1v93.8h-1zM254,164h1v97.6h-1zM257.8,166.6h1v95h-1zM261.25,200.6h0.9v61h-0.9zM264.15,231.2h0.9v30.4h-0.9zM267.4,246.2h0.8v15.4h-0.8zM270.6,254.5h0.8v7.1h-0.8zM280.15,253.4h0.9v8.2h-0.9zM283.25,249.9h0.9v11.7h-0.9zM287.05,241h0.9v20.6h-0.9zM289.95,239.2h0.9v22.4h-0.9zM292.95,238.4h0.9v23.2h-0.9zM296.85,242.8h0.9v18.8h-0.9zM299.75,242.2h0.9v19.4h-0.9zM302.65,244h0.9v17.6h-0.9zM306.6,251h0.8v10.6h-0.8zM309.3,254h0.8v7.6h-0.8zM312.1,255.2h0.8v6.4h-0.8zM316,257h0.8v4.6h-0.8z" fill="#c9c4a0" stroke="#fbfaf4" stroke-width="0.15"/>
<path d="M394.01,261.16h1.53v0.44h-1.53zM395.54,260.82h1.53v0.78h-1.53zM397.07,259.36h1.53v2.24h-1.53zM398.6,257.85h1.53v3.75h-1.53zM400.14,258.63h1.53v2.97h-1.53zM401.67,256.34h1.53v5.26h-1.53zM403.2,254.16h1.53v7.44h-1.53zM404.74,254.44h1.53v7.16h-1.53zM406.27,244.97h1.53v16.63h-1.53zM407.8,236.39h1.53v25.21h-1.53zM409.34,241.77h1.53v19.83h-1.53zM410.87,218.5h1.53v43.1h-1.53zM412.4,208h1.53v53.6h-1.53zM413.93,218.52h1.53v43.08h-1.53zM415.47,175.59h1.53v86.01h-1.53zM417,170.98h1.53v90.62h-1.53zM418.53,200.33h1.53v61.27h-1.53zM420.07,167.49h1.53v94.11h-1.53zM421.6,165.11h1.53v96.49h-1.53zM423.13,211.75h1.53v49.85h-1.53zM424.67,188.2h1.53v73.4h-1.53zM426.2,195.6h1.53v66h-1.53zM427.73,228.2h1.53v33.4h-1.53zM429.26,221.57h1.53v40.03h-1.53zM430.8,232.85h1.53v28.75h-1.53zM432.33,247.71h1.53v13.89h-1.53zM433.86,244.51h1.53v17.09h-1.53zM435.4,247.97h1.53v13.63h-1.53zM436.93,254.42h1.53v7.18h-1.53zM438.46,253.86h1.53v7.74h-1.53zM440,255.87h1.53v5.73h-1.53zM441.53,259.54h1.53v2.06h-1.53zM443.06,260.13h1.53v1.47h-1.53zM444.59,260.92h1.53v0.68h-1.53zM461.46,261.21h1.53v0.39h-1.53zM462.99,261.03h1.53v0.57h-1.53zM464.52,261.06h1.53v0.54h-1.53zM466.06,260.49h1.53v1.11h-1.53zM467.59,260.07h1.53v1.53h-1.53zM469.12,260.24h1.53v1.36h-1.53zM470.66,258.54h1.53v3.06h-1.53zM472.19,257.96h1.53v3.64h-1.53zM473.72,258.77h1.53v2.83h-1.53zM475.25,255.73h1.53v5.87h-1.53zM476.79,255.09h1.53v6.51h-1.53zM478.32,256.4h1.53v5.2h-1.53zM479.85,252.44h1.53v9.16h-1.53zM481.39,250.35h1.53v11.25h-1.53zM482.92,253.35h1.53v8.25h-1.53zM484.45,248.93h1.53v12.67h-1.53zM485.99,246.75h1.53v14.85h-1.53zM487.52,251.77h1.53v9.83h-1.53zM489.05,246.33h1.53v15.27h-1.53zM490.58,245.74h1.53v15.86h-1.53zM492.12,250.6h1.53v11h-1.53zM493.65,244.21h1.53v17.39h-1.53zM495.18,247.07h1.53v14.53h-1.53zM496.72,252.27h1.53v9.33h-1.53zM498.25,247.17h1.53v14.43h-1.53zM499.78,249.91h1.53v11.69h-1.53zM501.32,254.76h1.53v6.84h-1.53zM502.85,252.84h1.53v8.76h-1.53zM504.38,253.7h1.53v7.9h-1.53zM505.91,257.28h1.53v4.32h-1.53zM507.45,255.95h1.53v5.65h-1.53zM508.98,256.91h1.53v4.69h-1.53zM510.51,259.54h1.53v2.06h-1.53zM512.05,258.91h1.53v2.69h-1.53zM513.58,259.38h1.53v2.22h-1.53zM515.11,260.62h1.53v0.98h-1.53zM516.65,260.46h1.53v1.14h-1.53zM518.18,260.79h1.53v0.81h-1.53zM519.71,261.21h1.53v0.39h-1.53zM521.24,261.2h1.53v0.4h-1.53z" fill="#c9c4a0" stroke="#fbfaf4" stroke-width="0.12"/>
<line x1="64.78" y1="261.9" x2="64.78" y2="263.9" stroke="#555555" stroke-width="0.8"/>
<line x1="64.78" y1="147.4" x2="64.78" y2="145.4" stroke="#555555" stroke-width="0.8"/>
<line x1="102.15" y1="261.9" x2="102.15" y2="263.9" stroke="#555555" stroke-width="0.8"/>
<line x1="102.15" y1="147.4" x2="102.15" y2="145.4" stroke="#555555" stroke-width="0.8"/>
<line x1="139.53" y1="261.9" x2="139.53" y2="263.9" stroke="#555555" stroke-width="0.8"/>
<line x1="139.53" y1="147.4" x2="139.53" y2="145.4" stroke="#555555" stroke-width="0.8"/>
<line x1="176.9" y1="261.9" x2="176.9" y2="263.9" stroke="#555555" stroke-width="0.8"/>
<line x1="176.9" y1="147.4" x2="176.9" y2="145.4" stroke="#555555" stroke-width="0.8"/>
<line x1="46.09" y1="261.9" x2="46.09" y2="263.1" stroke="#555555" stroke-width="0.8"/>
<line x1="46.09" y1="147.4" x2="46.09" y2="146.2" stroke="#555555" stroke-width="0.8"/>
<line x1="83.46" y1="261.9" x2="83.46" y2="263.1" stroke="#555555" stroke-width="0.8"/>
<line x1="83.46" y1="147.4" x2="83.46" y2="146.2" stroke="#555555" stroke-width="0.8"/>
<line x1="120.84" y1="261.9" x2="120.84" y2="263.1" stroke="#555555" stroke-width="0.8"/>
<line x1="120.84" y1="147.4" x2="120.84" y2="146.2" stroke="#555555" stroke-width="0.8"/>
<line x1="158.21" y1="261.9" x2="158.21" y2="263.1" stroke="#555555" stroke-width="0.8"/>
<line x1="158.21" y1="147.4" x2="158.21" y2="146.2" stroke="#555555" stroke-width="0.8"/>
<line x1="27.4" y1="261.9" x2="25.4" y2="261.9" stroke="#555555" stroke-width="0.8"/>
<line x1="176.9" y1="261.9" x2="178.9" y2="261.9" stroke="#555555" stroke-width="0.8"/>
<line x1="27.4" y1="239" x2="25.4" y2="239" stroke="#555555" stroke-width="0.8"/>
<line x1="176.9" y1="239" x2="178.9" y2="239" stroke="#555555" stroke-width="0.8"/>
<line x1="27.4" y1="216.1" x2="25.4" y2="216.1" stroke="#555555" stroke-width="0.8"/>
<line x1="176.9" y1="216.1" x2="178.9" y2="216.1" stroke="#555555" stroke-width="0.8"/>
<line x1="27.4" y1="193.2" x2="25.4" y2="193.2" stroke="#555555" stroke-width="0.8"/>
<line x1="176.9" y1="193.2" x2="178.9" y2="193.2" stroke="#555555" stroke-width="0.8"/>
<line x1="27.4" y1="170.3" x2="25.4" y2="170.3" stroke="#555555" stroke-width="0.8"/>
<line x1="176.9" y1="170.3" x2="178.9" y2="170.3" stroke="#555555" stroke-width="0.8"/>
<line x1="27.4" y1="147.4" x2="25.4" y2="147.4" stroke="#555555" stroke-width="0.8"/>
<line x1="176.9" y1="147.4" x2="178.9" y2="147.4" stroke="#555555" stroke-width="0.8"/>
<line x1="27.4" y1="250.45" x2="26.2" y2="250.45" stroke="#555555" stroke-width="0.8"/>
<line x1="176.9" y1="250.45" x2="178.1" y2="250.45" stroke="#555555" stroke-width="0.8"/>
<line x1="27.4" y1="227.55" x2="26.2" y2="227.55" stroke="#555555" stroke-width="0.8"/>
<line x1="176.9" y1="227.55" x2="178.1" y2="227.55" stroke="#555555" stroke-width="0.8"/>
<line x1="27.4" y1="204.65" x2="26.2" y2="204.65" stroke="#555555" stroke-width="0.8"/>
<line x1="176.9" y1="204.65" x2="178.1" y2="204.65" stroke="#555555" stroke-width="0.8"/>
<line x1="27.4" y1="181.75" x2="26.2" y2="181.75" stroke="#555555" stroke-width="0.8"/>
<line x1="176.9" y1="181.75" x2="178.1" y2="181.75" stroke="#555555" stroke-width="0.8"/>
<line x1="27.4" y1="158.85" x2="26.2" y2="158.85" stroke="#555555" stroke-width="0.8"/>
<line x1="176.9" y1="158.85" x2="178.1" y2="158.85" stroke="#555555" stroke-width="0.8"/>
<rect x="27.4" y="147.4" width="149.5" height="114.5" fill="none" stroke="#555555" stroke-width="1"/>
<text x="64.78" y="270.3" text-anchor="middle" font-size="5.6" font-weight="normal" fill="#2e2e2e" stroke="#2e2e2e" stroke-width="0.24" >25</text>
<text x="102.15" y="270.3" text-anchor="middle" font-size="5.6" font-weight="normal" fill="#2e2e2e" stroke="#2e2e2e" stroke-width="0.24" >50</text>
<text x="139.53" y="270.3" text-anchor="middle" font-size="5.6" font-weight="normal" fill="#2e2e2e" stroke="#2e2e2e" stroke-width="0.24" >75</text>
<text x="176.9" y="270.3" text-anchor="middle" font-size="5.6" font-weight="normal" fill="#2e2e2e" stroke="#2e2e2e" stroke-width="0.24" >100</text>
<text x="23.9" y="263.9" text-anchor="end" font-size="5.6" font-weight="normal" fill="#2e2e2e" stroke="#2e2e2e" stroke-width="0.24" >0</text>
<text x="23.9" y="241" text-anchor="end" font-size="5.6" font-weight="normal" fill="#2e2e2e" stroke="#2e2e2e" stroke-width="0.24" >300</text>
<text x="23.9" y="218.1" text-anchor="end" font-size="5.6" font-weight="normal" fill="#2e2e2e" stroke="#2e2e2e" stroke-width="0.24" >600</text>
<text x="23.9" y="195.2" text-anchor="end" font-size="5.6" font-weight="normal" fill="#2e2e2e" stroke="#2e2e2e" stroke-width="0.24" >900</text>
<text x="23.9" y="172.3" text-anchor="end" font-size="5.6" font-weight="normal" fill="#2e2e2e" stroke="#2e2e2e" stroke-width="0.24" >1200</text>
<text x="23.9" y="149.4" text-anchor="end" font-size="5.6" font-weight="normal" fill="#2e2e2e" stroke="#2e2e2e" stroke-width="0.24" >1500</text>
<text x="102.15" y="280.3" text-anchor="middle" font-size="5.6" font-weight="normal" fill="#2e2e2e" stroke="#2e2e2e" stroke-width="0.24" >Discrimination factor (a.u.)</text>
<text x="0" y="0" transform="translate(8.4,204.65) rotate(-90)" text-anchor="middle" font-size="5.6" fill="#2e2e2e" stroke="#2e2e2e" stroke-width="0.24">Count (a.u.)</text>
<text x="29.1" y="154.8" text-anchor="start" font-size="7.0" font-weight="bold" fill="#222" stroke="#222" stroke-width="0.24" >(d)</text>
<line x1="243.58" y1="261.6" x2="243.58" y2="263.6" stroke="#555555" stroke-width="0.8"/>
<line x1="243.58" y1="147.4" x2="243.58" y2="145.4" stroke="#555555" stroke-width="0.8"/>
<line x1="280.97" y1="261.6" x2="280.97" y2="263.6" stroke="#555555" stroke-width="0.8"/>
<line x1="280.97" y1="147.4" x2="280.97" y2="145.4" stroke="#555555" stroke-width="0.8"/>
<line x1="318.35" y1="261.6" x2="318.35" y2="263.6" stroke="#555555" stroke-width="0.8"/>
<line x1="318.35" y1="147.4" x2="318.35" y2="145.4" stroke="#555555" stroke-width="0.8"/>
<line x1="355.73" y1="261.6" x2="355.73" y2="263.6" stroke="#555555" stroke-width="0.8"/>
<line x1="355.73" y1="147.4" x2="355.73" y2="145.4" stroke="#555555" stroke-width="0.8"/>
<line x1="224.89" y1="261.6" x2="224.89" y2="262.8" stroke="#555555" stroke-width="0.8"/>
<line x1="224.89" y1="147.4" x2="224.89" y2="146.2" stroke="#555555" stroke-width="0.8"/>
<line x1="262.27" y1="261.6" x2="262.27" y2="262.8" stroke="#555555" stroke-width="0.8"/>
<line x1="262.27" y1="147.4" x2="262.27" y2="146.2" stroke="#555555" stroke-width="0.8"/>
<line x1="299.66" y1="261.6" x2="299.66" y2="262.8" stroke="#555555" stroke-width="0.8"/>
<line x1="299.66" y1="147.4" x2="299.66" y2="146.2" stroke="#555555" stroke-width="0.8"/>
<line x1="337.04" y1="261.6" x2="337.04" y2="262.8" stroke="#555555" stroke-width="0.8"/>
<line x1="337.04" y1="147.4" x2="337.04" y2="146.2" stroke="#555555" stroke-width="0.8"/>
<line x1="206.2" y1="261.6" x2="204.2" y2="261.6" stroke="#555555" stroke-width="0.8"/>
<line x1="358.5" y1="261.6" x2="360.5" y2="261.6" stroke="#555555" stroke-width="0.8"/>
<line x1="206.2" y1="233.05" x2="204.2" y2="233.05" stroke="#555555" stroke-width="0.8"/>
<line x1="358.5" y1="233.05" x2="360.5" y2="233.05" stroke="#555555" stroke-width="0.8"/>
<line x1="206.2" y1="204.5" x2="204.2" y2="204.5" stroke="#555555" stroke-width="0.8"/>
<line x1="358.5" y1="204.5" x2="360.5" y2="204.5" stroke="#555555" stroke-width="0.8"/>
<line x1="206.2" y1="175.95" x2="204.2" y2="175.95" stroke="#555555" stroke-width="0.8"/>
<line x1="358.5" y1="175.95" x2="360.5" y2="175.95" stroke="#555555" stroke-width="0.8"/>
<line x1="206.2" y1="147.4" x2="204.2" y2="147.4" stroke="#555555" stroke-width="0.8"/>
<line x1="358.5" y1="147.4" x2="360.5" y2="147.4" stroke="#555555" stroke-width="0.8"/>
<line x1="206.2" y1="247.33" x2="205" y2="247.33" stroke="#555555" stroke-width="0.8"/>
<line x1="358.5" y1="247.33" x2="359.7" y2="247.33" stroke="#555555" stroke-width="0.8"/>
<line x1="206.2" y1="218.78" x2="205" y2="218.78" stroke="#555555" stroke-width="0.8"/>
<line x1="358.5" y1="218.78" x2="359.7" y2="218.78" stroke="#555555" stroke-width="0.8"/>
<line x1="206.2" y1="190.23" x2="205" y2="190.23" stroke="#555555" stroke-width="0.8"/>
<line x1="358.5" y1="190.23" x2="359.7" y2="190.23" stroke="#555555" stroke-width="0.8"/>
<line x1="206.2" y1="161.68" x2="205" y2="161.68" stroke="#555555" stroke-width="0.8"/>
<line x1="358.5" y1="161.68" x2="359.7" y2="161.68" stroke="#555555" stroke-width="0.8"/>
<rect x="206.2" y="147.4" width="152.3" height="114.2" fill="none" stroke="#555555" stroke-width="1"/>
<text x="243.58" y="270" text-anchor="middle" font-size="5.6" font-weight="normal" fill="#2e2e2e" stroke="#2e2e2e" stroke-width="0.24" >27</text>
<text x="280.97" y="270" text-anchor="middle" font-size="5.6" font-weight="normal" fill="#2e2e2e" stroke="#2e2e2e" stroke-width="0.24" >54</text>
<text x="318.35" y="270" text-anchor="middle" font-size="5.6" font-weight="normal" fill="#2e2e2e" stroke="#2e2e2e" stroke-width="0.24" >81</text>
<text x="355.73" y="270" text-anchor="middle" font-size="5.6" font-weight="normal" fill="#2e2e2e" stroke="#2e2e2e" stroke-width="0.24" >108</text>
<text x="202.7" y="263.6" text-anchor="end" font-size="5.6" font-weight="normal" fill="#2e2e2e" stroke="#2e2e2e" stroke-width="0.24" >0</text>
<text x="202.7" y="235.05" text-anchor="end" font-size="5.6" font-weight="normal" fill="#2e2e2e" stroke="#2e2e2e" stroke-width="0.24" >300</text>
<text x="202.7" y="206.5" text-anchor="end" font-size="5.6" font-weight="normal" fill="#2e2e2e" stroke="#2e2e2e" stroke-width="0.24" >600</text>
<text x="202.7" y="177.95" text-anchor="end" font-size="5.6" font-weight="normal" fill="#2e2e2e" stroke="#2e2e2e" stroke-width="0.24" >900</text>
<text x="202.7" y="149.4" text-anchor="end" font-size="5.6" font-weight="normal" fill="#2e2e2e" stroke="#2e2e2e" stroke-width="0.24" >1200</text>
<text x="282.35" y="280" text-anchor="middle" font-size="5.6" font-weight="normal" fill="#2e2e2e" stroke="#2e2e2e" stroke-width="0.24" >Discrimination factor (a.u.)</text>
<text x="0" y="0" transform="translate(187.1,204.5) rotate(-90)" text-anchor="middle" font-size="5.6" fill="#2e2e2e" stroke="#2e2e2e" stroke-width="0.24">Count (a.u.)</text>
<text x="207.9" y="154.8" text-anchor="start" font-size="7.0" font-weight="bold" fill="#222" stroke="#222" stroke-width="0.24" >(e)</text>
<line x1="422.23" y1="261.6" x2="422.23" y2="263.6" stroke="#555555" stroke-width="0.8"/>
<line x1="422.23" y1="147.4" x2="422.23" y2="145.4" stroke="#555555" stroke-width="0.8"/>
<line x1="459.76" y1="261.6" x2="459.76" y2="263.6" stroke="#555555" stroke-width="0.8"/>
<line x1="459.76" y1="147.4" x2="459.76" y2="145.4" stroke="#555555" stroke-width="0.8"/>
<line x1="497.29" y1="261.6" x2="497.29" y2="263.6" stroke="#555555" stroke-width="0.8"/>
<line x1="497.29" y1="147.4" x2="497.29" y2="145.4" stroke="#555555" stroke-width="0.8"/>
<line x1="534.82" y1="261.6" x2="534.82" y2="263.6" stroke="#555555" stroke-width="0.8"/>
<line x1="534.82" y1="147.4" x2="534.82" y2="145.4" stroke="#555555" stroke-width="0.8"/>
<line x1="403.46" y1="261.6" x2="403.46" y2="262.8" stroke="#555555" stroke-width="0.8"/>
<line x1="403.46" y1="147.4" x2="403.46" y2="146.2" stroke="#555555" stroke-width="0.8"/>
<line x1="441" y1="261.6" x2="441" y2="262.8" stroke="#555555" stroke-width="0.8"/>
<line x1="441" y1="147.4" x2="441" y2="146.2" stroke="#555555" stroke-width="0.8"/>
<line x1="478.52" y1="261.6" x2="478.52" y2="262.8" stroke="#555555" stroke-width="0.8"/>
<line x1="478.52" y1="147.4" x2="478.52" y2="146.2" stroke="#555555" stroke-width="0.8"/>
<line x1="516.06" y1="261.6" x2="516.06" y2="262.8" stroke="#555555" stroke-width="0.8"/>
<line x1="516.06" y1="147.4" x2="516.06" y2="146.2" stroke="#555555" stroke-width="0.8"/>
<line x1="384.7" y1="261.6" x2="382.7" y2="261.6" stroke="#555555" stroke-width="0.8"/>
<line x1="537.6" y1="261.6" x2="539.6" y2="261.6" stroke="#555555" stroke-width="0.8"/>
<line x1="384.7" y1="233.05" x2="382.7" y2="233.05" stroke="#555555" stroke-width="0.8"/>
<line x1="537.6" y1="233.05" x2="539.6" y2="233.05" stroke="#555555" stroke-width="0.8"/>
<line x1="384.7" y1="204.5" x2="382.7" y2="204.5" stroke="#555555" stroke-width="0.8"/>
<line x1="537.6" y1="204.5" x2="539.6" y2="204.5" stroke="#555555" stroke-width="0.8"/>
<line x1="384.7" y1="175.95" x2="382.7" y2="175.95" stroke="#555555" stroke-width="0.8"/>
<line x1="537.6" y1="175.95" x2="539.6" y2="175.95" stroke="#555555" stroke-width="0.8"/>
<line x1="384.7" y1="147.4" x2="382.7" y2="147.4" stroke="#555555" stroke-width="0.8"/>
<line x1="537.6" y1="147.4" x2="539.6" y2="147.4" stroke="#555555" stroke-width="0.8"/>
<line x1="384.7" y1="247.33" x2="383.5" y2="247.33" stroke="#555555" stroke-width="0.8"/>
<line x1="537.6" y1="247.33" x2="538.8" y2="247.33" stroke="#555555" stroke-width="0.8"/>
<line x1="384.7" y1="218.78" x2="383.5" y2="218.78" stroke="#555555" stroke-width="0.8"/>
<line x1="537.6" y1="218.78" x2="538.8" y2="218.78" stroke="#555555" stroke-width="0.8"/>
<line x1="384.7" y1="190.23" x2="383.5" y2="190.23" stroke="#555555" stroke-width="0.8"/>
<line x1="537.6" y1="190.23" x2="538.8" y2="190.23" stroke="#555555" stroke-width="0.8"/>
<line x1="384.7" y1="161.68" x2="383.5" y2="161.68" stroke="#555555" stroke-width="0.8"/>
<line x1="537.6" y1="161.68" x2="538.8" y2="161.68" stroke="#555555" stroke-width="0.8"/>
<rect x="384.7" y="147.4" width="152.9" height="114.2" fill="none" stroke="#555555" stroke-width="1"/>
<text x="422.23" y="270" text-anchor="middle" font-size="5.6" font-weight="normal" fill="#2e2e2e" stroke="#2e2e2e" stroke-width="0.24" >27</text>
<text x="459.76" y="270" text-anchor="middle" font-size="5.6" font-weight="normal" fill="#2e2e2e" stroke="#2e2e2e" stroke-width="0.24" >54</text>
<text x="497.29" y="270" text-anchor="middle" font-size="5.6" font-weight="normal" fill="#2e2e2e" stroke="#2e2e2e" stroke-width="0.24" >81</text>
<text x="534.82" y="270" text-anchor="middle" font-size="5.6" font-weight="normal" fill="#2e2e2e" stroke="#2e2e2e" stroke-width="0.24" >108</text>
<text x="381.2" y="263.6" text-anchor="end" font-size="5.6" font-weight="normal" fill="#2e2e2e" stroke="#2e2e2e" stroke-width="0.24" >0</text>
<text x="381.2" y="235.05" text-anchor="end" font-size="5.6" font-weight="normal" fill="#2e2e2e" stroke="#2e2e2e" stroke-width="0.24" >300</text>
<text x="381.2" y="206.5" text-anchor="end" font-size="5.6" font-weight="normal" fill="#2e2e2e" stroke="#2e2e2e" stroke-width="0.24" >600</text>
<text x="381.2" y="177.95" text-anchor="end" font-size="5.6" font-weight="normal" fill="#2e2e2e" stroke="#2e2e2e" stroke-width="0.24" >900</text>
<text x="381.2" y="149.4" text-anchor="end" font-size="5.6" font-weight="normal" fill="#2e2e2e" stroke="#2e2e2e" stroke-width="0.24" >1200</text>
<text x="461.15" y="280" text-anchor="middle" font-size="5.6" font-weight="normal" fill="#2e2e2e" stroke="#2e2e2e" stroke-width="0.24" >Discrimination factor (a.u.)</text>
<text x="0" y="0" transform="translate(366,204.5) rotate(-90)" text-anchor="middle" font-size="5.6" fill="#2e2e2e" stroke="#2e2e2e" stroke-width="0.24">Count (a.u.)</text>
<text x="386.4" y="154.8" text-anchor="start" font-size="7.0" font-weight="bold" fill="#222" stroke="#222" stroke-width="0.24" >(f)</text>
<polyline points="27.4,261.8 27.9,261.8 28.4,261.8 28.89,261.8 29.39,261.8 29.89,261.8 30.39,261.8 30.89,261.8 31.39,261.8 31.88,261.8 32.38,261.8 32.88,261.8 33.38,261.8 33.88,261.8 34.38,261.8 34.88,261.8 35.37,261.8 35.87,261.8 36.37,261.79 36.87,261.79 37.37,261.79 37.86,261.78 38.36,261.77 38.86,261.76 39.36,261.75 39.86,261.73 40.36,261.71 40.85,261.67 41.35,261.63 41.85,261.58 42.35,261.51 42.85,261.42 43.35,261.3 43.84,261.16 44.34,260.97 44.84,260.75 45.34,260.46 45.84,260.12 46.34,259.69 46.83,259.18 47.33,258.56 47.83,257.83 48.33,256.95 48.83,255.92 49.33,254.73 49.83,253.34 50.32,251.74 50.82,249.92 51.32,247.86 51.82,245.55 52.32,242.98 52.81,240.15 53.31,237.04 53.81,233.67 54.31,230.05 54.81,226.2 55.31,222.13 55.8,217.88 56.3,213.5 56.8,209.01 57.3,204.48 57.8,199.97 58.3,195.52 58.8,191.22 59.29,187.12 59.79,183.29 60.29,179.79 60.79,176.7 61.29,174.05 61.78,171.9 62.28,170.3 62.78,169.26 63.28,168.82 63.78,168.97 64.28,169.73 64.78,171.06 65.27,172.95 65.77,175.36 66.27,178.25 66.77,181.56 67.27,185.24 67.77,189.21 68.26,193.43 68.76,197.81 69.26,202.3 69.76,206.83 70.26,211.35 70.75,215.79 71.25,220.11 71.75,224.26 72.25,228.22 72.75,231.96 73.25,235.45 73.75,238.68 74.24,241.65 74.74,244.35 75.24,246.78 75.74,248.96 76.24,250.89 76.73,252.6 77.23,254.08 77.73,255.37 78.23,256.48 78.73,257.42 79.23,258.22 79.72,258.9 80.22,259.46 80.72,259.92 81.22,260.31 81.72,260.62 82.22,260.87 82.72,261.07 83.21,261.24 83.71,261.37 84.21,261.47 84.71,261.55 85.21,261.61 85.7,261.66 86.2,261.69 86.7,261.72 87.2,261.74 87.7,261.76 88.2,261.77 88.69,261.78 89.19,261.78 89.69,261.79 90.19,261.79 90.69,261.79 91.19,261.8 91.69,261.8 92.18,261.8 92.68,261.8 93.18,261.8 93.68,261.8 94.18,261.8 94.68,261.8 95.17,261.8 95.67,261.8 96.17,261.8 96.67,261.8 97.17,261.8 97.66,261.8 98.16,261.8 98.66,261.8 99.16,261.8 99.66,261.79 100.16,261.79 100.66,261.79 101.15,261.79 101.65,261.79 102.15,261.79 102.65,261.79 103.15,261.78 103.65,261.78 104.14,261.78 104.64,261.77 105.14,261.77 105.64,261.76 106.14,261.75 106.63,261.75 107.13,261.74 107.63,261.73 108.13,261.72 108.63,261.7 109.13,261.69 109.62,261.67 110.12,261.65 110.62,261.63 111.12,261.61 111.62,261.58 112.12,261.55 112.62,261.51 113.11,261.47 113.61,261.43 114.11,261.38 114.61,261.33 115.11,261.27 115.6,261.21 116.1,261.13 116.6,261.06 117.1,260.97 117.6,260.87 118.1,260.77 118.59,260.66 119.09,260.54 119.59,260.41 120.09,260.26 120.59,260.11 121.09,259.94 121.59,259.77 122.08,259.58 122.58,259.37 123.08,259.16 123.58,258.93 124.08,258.69 124.57,258.43 125.07,258.16 125.57,257.88 126.07,257.58 126.57,257.27 127.07,256.95 127.56,256.62 128.06,256.27 128.56,255.91 129.06,255.55 129.56,255.17 130.06,254.79 130.56,254.39 131.05,254 131.55,253.6 132.05,253.19 132.55,252.78 133.05,252.38 133.54,251.97 134.04,251.57 134.54,251.18 135.04,250.79 135.54,250.41 136.04,250.04 136.53,249.69 137.03,249.35 137.53,249.03 138.03,248.72 138.53,248.44 139.03,248.17 139.53,247.94 140.02,247.72 140.52,247.53 141.02,247.37 141.52,247.24 142.02,247.13 142.51,247.06 143.01,247.01 143.51,247 144.01,247.02 144.51,247.06 145.01,247.14 145.5,247.24 146,247.38 146.5,247.54 147,247.73 147.5,247.95 148,248.19 148.5,248.45 148.99,248.74 149.49,249.04 149.99,249.36 150.49,249.7 150.99,250.06 151.48,250.43 151.98,250.81 152.48,251.2 152.98,251.59 153.48,251.99 153.98,252.4 154.47,252.8 154.97,253.21 155.47,253.61 155.97,254.02 156.47,254.41 156.97,254.8 157.47,255.19 157.96,255.56 158.46,255.93 158.96,256.29 159.46,256.63 159.96,256.97 160.46,257.29 160.95,257.6 161.45,257.89 161.95,258.17 162.45,258.44 162.95,258.7 163.44,258.94 163.94,259.17 164.44,259.38 164.94,259.59 165.44,259.77 165.94,259.95 166.44,260.12 166.93,260.27 167.43,260.41 167.93,260.54 168.43,260.66 168.93,260.78 169.43,260.88 169.92,260.97 170.42,261.06 170.92,261.14 171.42,261.21 171.92,261.27 172.41,261.33 172.91,261.39 173.41,261.43 173.91,261.48 174.41,261.51 174.91,261.55 175.41,261.58 175.9,261.61 176.4,261.63 176.9,261.65" fill="none" stroke="#f3c6ad" stroke-width="0.65"/>
<polyline points="206.2,261.5 206.71,261.5 207.22,261.5 207.72,261.5 208.23,261.5 208.74,261.5 209.25,261.5 209.75,261.5 210.26,261.5 210.77,261.5 211.28,261.5 211.78,261.5 212.29,261.5 212.8,261.49 213.31,261.49 213.81,261.49 214.32,261.49 214.83,261.49 215.34,261.48 215.85,261.48 216.35,261.47 216.86,261.46 217.37,261.46 217.88,261.45 218.38,261.43 218.89,261.42 219.4,261.4 219.91,261.38 220.41,261.35 220.92,261.32 221.43,261.29 221.94,261.24 222.45,261.19 222.95,261.13 223.46,261.06 223.97,260.97 224.48,260.88 224.98,260.76 225.49,260.63 226,260.48 226.51,260.31 227.01,260.11 227.52,259.88 228.03,259.63 228.54,259.33 229.04,259 229.55,258.63 230.06,258.21 230.57,257.74 231.08,257.22 231.58,256.64 232.09,256 232.6,255.29 233.11,254.52 233.61,253.67 234.12,252.74 234.63,251.74 235.14,250.65 235.64,249.48 236.15,248.22 236.66,246.87 237.17,245.44 237.68,243.92 238.18,242.31 238.69,240.62 239.2,238.86 239.71,237.01 240.21,235.1 240.72,233.12 241.23,231.09 241.74,229.02 242.24,226.9 242.75,224.76 243.26,222.61 243.77,220.46 244.27,218.32 244.78,216.2 245.29,214.13 245.8,212.11 246.31,210.16 246.81,208.3 247.32,206.54 247.83,204.89 248.34,203.37 248.84,201.99 249.35,200.76 249.86,199.7 250.37,198.81 250.87,198.1 251.38,197.57 251.89,197.24 252.4,197.1 252.91,197.16 253.41,197.42 253.92,197.86 254.43,198.5 254.94,199.32 255.44,200.31 255.95,201.47 256.46,202.79 256.97,204.26 257.47,205.85 257.98,207.57 258.49,209.39 259,211.3 259.5,213.29 260.01,215.34 260.52,217.44 261.03,219.57 261.54,221.72 262.04,223.86 262.55,226 263.06,228.12 263.57,230.21 264.07,232.25 264.58,234.24 265.09,236.16 265.6,238.02 266.1,239.8 266.61,241.5 267.12,243.11 267.63,244.64 268.14,246.08 268.64,247.43 269.15,248.68 269.66,249.84 270.17,250.91 270.67,251.89 271.18,252.79 271.69,253.6 272.2,254.32 272.7,254.97 273.21,255.54 273.72,256.03 274.23,256.46 274.74,256.82 275.24,257.12 275.75,257.35 276.26,257.54 276.77,257.66 277.27,257.74 277.78,257.78 278.29,257.76 278.8,257.71 279.3,257.62 279.81,257.5 280.32,257.34 280.83,257.15 281.33,256.94 281.84,256.7 282.35,256.43 282.86,256.15 283.37,255.85 283.87,255.53 284.38,255.2 284.89,254.86 285.4,254.52 285.9,254.17 286.41,253.81 286.92,253.46 287.43,253.11 287.93,252.76 288.44,252.42 288.95,252.1 289.46,251.78 289.97,251.48 290.47,251.2 290.98,250.94 291.49,250.71 292,250.49 292.5,250.31 293.01,250.15 293.52,250.01 294.03,249.91 294.53,249.84 295.04,249.81 295.55,249.8 296.06,249.83 296.56,249.88 297.07,249.97 297.58,250.09 298.09,250.24 298.6,250.42 299.1,250.62 299.61,250.85 300.12,251.11 300.63,251.38 301.13,251.68 301.64,251.99 302.15,252.32 302.66,252.66 303.16,253.01 303.67,253.37 304.18,253.73 304.69,254.1 305.19,254.47 305.7,254.84 306.21,255.21 306.72,255.58 307.23,255.94 307.73,256.29 308.24,256.63 308.75,256.96 309.26,257.28 309.76,257.59 310.27,257.89 310.78,258.17 311.29,258.44 311.79,258.7 312.3,258.94 312.81,259.16 313.32,259.38 313.83,259.57 314.33,259.76 314.84,259.93 315.35,260.09 315.86,260.23 316.36,260.37 316.87,260.49 317.38,260.6 317.89,260.7 318.39,260.8 318.9,260.88 319.41,260.95 319.92,261.02 320.42,261.08 320.93,261.13 321.44,261.18 321.95,261.22 322.46,261.26 322.96,261.29 323.47,261.32 323.98,261.35 324.49,261.37 324.99,261.39 325.5,261.41 326.01,261.42 326.52,261.43 327.02,261.44 327.53,261.45 328.04,261.46 328.55,261.47 329.06,261.47 329.56,261.48 330.07,261.48 330.58,261.48 331.09,261.49 331.59,261.49 332.1,261.49 332.61,261.49 333.12,261.49 333.62,261.5 334.13,261.5 334.64,261.5 335.15,261.5 335.65,261.5 336.16,261.5 336.67,261.5 337.18,261.5 337.69,261.5 338.19,261.5 338.7,261.5 339.21,261.5 339.72,261.5 340.22,261.5 340.73,261.5 341.24,261.5 341.75,261.5 342.25,261.5 342.76,261.5 343.27,261.5 343.78,261.5 344.29,261.5 344.79,261.5 345.3,261.5 345.81,261.5 346.32,261.5 346.82,261.5 347.33,261.5 347.84,261.5 348.35,261.5 348.85,261.5 349.36,261.5 349.87,261.5 350.38,261.5 350.88,261.5 351.39,261.5 351.9,261.5 352.41,261.5 352.92,261.5 353.42,261.5 353.93,261.5 354.44,261.5 354.95,261.5 355.45,261.5 355.96,261.5 356.47,261.5 356.98,261.5 357.48,261.5 357.99,261.5 358.5,261.5" fill="none" stroke="#f3c6ad" stroke-width="0.65"/>
<polyline points="384.7,261.5 385.21,261.5 385.72,261.5 386.23,261.5 386.74,261.5 387.25,261.5 387.76,261.5 388.27,261.5 388.78,261.49 389.29,261.49 389.8,261.49 390.31,261.49 390.82,261.48 391.33,261.47 391.84,261.47 392.34,261.45 392.85,261.44 393.36,261.42 393.87,261.4 394.38,261.37 394.89,261.33 395.4,261.28 395.91,261.22 396.42,261.14 396.93,261.05 397.44,260.93 397.95,260.79 398.46,260.61 398.97,260.4 399.48,260.15 399.99,259.84 400.5,259.47 401.01,259.04 401.52,258.53 402.03,257.93 402.54,257.23 403.05,256.41 403.56,255.48 404.07,254.4 404.58,253.18 405.09,251.79 405.6,250.23 406.11,248.49 406.62,246.55 407.13,244.4 407.63,242.05 408.14,239.48 408.65,236.7 409.16,233.7 409.67,230.5 410.18,227.11 410.69,223.53 411.2,219.79 411.71,215.92 412.22,211.93 412.73,207.86 413.24,203.75 413.75,199.63 414.26,195.55 414.77,191.55 415.28,187.69 415.79,183.99 416.3,180.52 416.81,177.32 417.32,174.43 417.83,171.89 418.34,169.73 418.85,167.99 419.36,166.7 419.87,165.87 420.38,165.51 420.89,165.64 421.4,166.24 421.91,167.31 422.42,168.84 422.93,170.79 423.43,173.15 423.94,175.88 424.45,178.94 424.96,182.28 425.47,185.88 425.98,189.66 426.49,193.6 427,197.65 427.51,201.75 428.02,205.87 428.53,209.97 429.04,214 429.55,217.93 430.06,221.74 430.57,225.4 431.08,228.88 431.59,232.18 432.1,235.27 432.61,238.16 433.12,240.83 433.63,243.29 434.14,245.53 434.65,247.57 435.16,249.41 435.67,251.06 436.18,252.53 436.69,253.83 437.2,254.97 437.71,255.98 438.22,256.85 438.72,257.6 439.23,258.25 439.74,258.8 440.25,259.27 440.76,259.67 441.27,260 441.78,260.28 442.29,260.52 442.8,260.71 443.31,260.86 443.82,260.99 444.33,261.1 444.84,261.18 445.35,261.25 445.86,261.3 446.37,261.35 446.88,261.38 447.39,261.4 447.9,261.42 448.41,261.44 448.92,261.45 449.43,261.46 449.94,261.46 450.45,261.47 450.96,261.47 451.47,261.47 451.98,261.47 452.49,261.46 453,261.46 453.5,261.45 454.01,261.45 454.52,261.44 455.03,261.43 455.54,261.42 456.05,261.41 456.56,261.39 457.07,261.37 457.58,261.35 458.09,261.33 458.6,261.31 459.11,261.28 459.62,261.25 460.13,261.21 460.64,261.17 461.15,261.13 461.66,261.08 462.17,261.02 462.68,260.96 463.19,260.89 463.7,260.82 464.21,260.74 464.72,260.65 465.23,260.55 465.74,260.44 466.25,260.32 466.76,260.19 467.27,260.05 467.78,259.89 468.29,259.73 468.8,259.55 469.3,259.36 469.81,259.16 470.32,258.94 470.83,258.71 471.34,258.46 471.85,258.2 472.36,257.92 472.87,257.63 473.38,257.33 473.89,257.01 474.4,256.67 474.91,256.32 475.42,255.96 475.93,255.59 476.44,255.2 476.95,254.8 477.46,254.4 477.97,253.98 478.48,253.56 478.99,253.13 479.5,252.7 480.01,252.26 480.52,251.83 481.03,251.39 481.54,250.96 482.05,250.54 482.56,250.12 483.07,249.71 483.58,249.31 484.09,248.93 484.59,248.56 485.1,248.21 485.61,247.88 486.12,247.57 486.63,247.28 487.14,247.02 487.65,246.79 488.16,246.58 488.67,246.4 489.18,246.26 489.69,246.15 490.2,246.06 490.71,246.02 491.22,246 491.73,246.02 492.24,246.07 492.75,246.15 493.26,246.27 493.77,246.42 494.28,246.6 494.79,246.8 495.3,247.04 495.81,247.3 496.32,247.59 496.83,247.9 497.34,248.23 497.85,248.59 498.36,248.96 498.87,249.34 499.38,249.74 499.88,250.15 500.39,250.57 500.9,251 501.41,251.43 501.92,251.86 502.43,252.3 502.94,252.73 503.45,253.16 503.96,253.59 504.47,254.01 504.98,254.43 505.49,254.83 506,255.23 506.51,255.62 507.02,255.99 507.53,256.35 508.04,256.7 508.55,257.03 509.06,257.35 509.57,257.66 510.08,257.95 510.59,258.22 511.1,258.48 511.61,258.73 512.12,258.96 512.63,259.17 513.14,259.38 513.65,259.57 514.16,259.74 514.66,259.91 515.17,260.06 515.68,260.2 516.19,260.33 516.7,260.45 517.21,260.55 517.72,260.65 518.23,260.74 518.74,260.83 519.25,260.9 519.76,260.97 520.27,261.03 520.78,261.08 521.29,261.13 521.8,261.18 522.31,261.22 522.82,261.25 523.33,261.28 523.84,261.31 524.35,261.33 524.86,261.36 525.37,261.38 525.88,261.39 526.39,261.41 526.9,261.42 527.41,261.43 527.92,261.44 528.43,261.45 528.94,261.46 529.45,261.46 529.96,261.47 530.46,261.47 530.97,261.48 531.48,261.48 531.99,261.48 532.5,261.49 533.01,261.49 533.52,261.49 534.03,261.49 534.54,261.49 535.05,261.49 535.56,261.5 536.07,261.5 536.58,261.5 537.09,261.5 537.6,261.5" fill="none" stroke="#f3c6ad" stroke-width="0.65"/>
<rect x="98.3" y="148.1" width="68.8" height="14.8" fill="#ffffff" stroke="#505050" stroke-width="0.9"/>
<rect x="99.5" y="150" width="11.8" height="5.2" fill="#c8c39e"/>
<line x1="99.5" y1="159" x2="111.3" y2="159" stroke="#f0a084" stroke-width="0.7"/>
<text x="113.1" y="154.7" text-anchor="start" font-size="5.6" font-weight="normal" fill="#2e2e2e" stroke="#2e2e2e" stroke-width="0.24" >Count</text>
<text x="113.1" y="161.4" text-anchor="start" font-size="5.6" font-weight="normal" fill="#2e2e2e" stroke="#2e2e2e" stroke-width="0.24" >Gaussian fitting curve</text>
<rect x="278.4" y="148.3" width="68.8" height="14.8" fill="#ffffff" stroke="#505050" stroke-width="0.9"/>
<rect x="279.6" y="150.2" width="11.8" height="5.2" fill="#c8c39e"/>
<line x1="279.6" y1="159.2" x2="291.4" y2="159.2" stroke="#f0a084" stroke-width="0.7"/>
<text x="293.2" y="154.9" text-anchor="start" font-size="5.6" font-weight="normal" fill="#2e2e2e" stroke="#2e2e2e" stroke-width="0.24" >Count</text>
<text x="293.2" y="161.6" text-anchor="start" font-size="5.6" font-weight="normal" fill="#2e2e2e" stroke="#2e2e2e" stroke-width="0.24" >Gaussian fitting curve</text>
<rect x="456.8" y="148.3" width="68.8" height="14.8" fill="#ffffff" stroke="#505050" stroke-width="0.9"/>
<rect x="458" y="150.2" width="11.8" height="5.2" fill="#c8c39e"/>
<line x1="458" y1="159.2" x2="469.8" y2="159.2" stroke="#f0a084" stroke-width="0.7"/>
<text x="471.6" y="154.9" text-anchor="start" font-size="5.6" font-weight="normal" fill="#2e2e2e" stroke="#2e2e2e" stroke-width="0.24" >Count</text>
<text x="471.6" y="161.6" text-anchor="start" font-size="5.6" font-weight="normal" fill="#2e2e2e" stroke="#2e2e2e" stroke-width="0.24" >Gaussian fitting curve</text>
<text x="98.8" y="169.6" text-anchor="start" font-size="5.6" font-weight="normal" fill="#2e2e2e" stroke="#2e2e2e" stroke-width="0.24" >FOM = 2.03</text>
<text x="278.5" y="171" text-anchor="start" font-size="5.6" font-weight="normal" fill="#2e2e2e" stroke="#2e2e2e" stroke-width="0.24" >FOM = 0.96</text>
<text x="457.3" y="171" text-anchor="start" font-size="5.6" font-weight="normal" fill="#2e2e2e" stroke="#2e2e2e" stroke-width="0.24" >FOM = 1.60</text>
</svg>
</body></html>
